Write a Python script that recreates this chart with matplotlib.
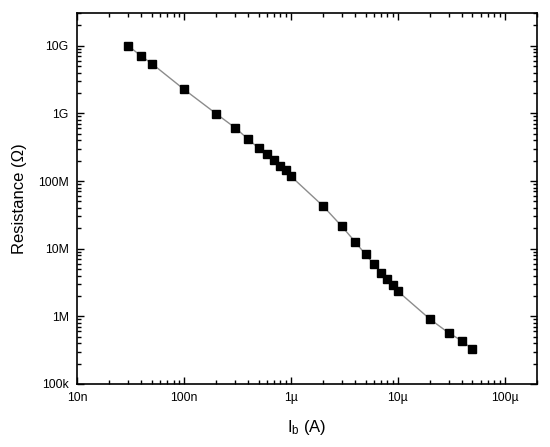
import matplotlib
matplotlib.use('Agg')
import matplotlib.pyplot as plt
import numpy as np

plt.rcParams['font.family'] = ['Liberation Sans', 'DejaVu Sans']
plt.rcParams['mathtext.fontset'] = 'custom'
plt.rcParams['mathtext.rm'] = 'Liberation Sans'
plt.rcParams['mathtext.default'] = 'regular'

# bias current (A) and measured resistance (Ohm)
current = [30e-9, 40e-9, 50e-9, 100e-9, 200e-9, 300e-9, 400e-9, 500e-9,
           600e-9, 700e-9, 800e-9, 900e-9, 1e-6, 2e-6, 3e-6, 4e-6, 5e-6,
           6e-6, 7e-6, 8e-6, 9e-6, 10e-6, 20e-6, 30e-6, 40e-6, 50e-6]
resistance = [1.0e10, 7.0e9, 5.45e9, 2.27e9, 9.9e8, 6.15e8, 4.15e8, 3.06e8,
              2.5e8, 2.02e8, 1.67e8, 1.45e8, 1.18e8, 4.28e7, 2.14e7, 1.26e7,
              8.2e6, 5.9e6, 4.33e6, 3.54e6, 2.89e6, 2.36e6, 9.1e5, 5.68e5,
              4.33e5, 3.24e5]

xticks = [1e-8, 1e-7, 1e-6, 1e-5, 1e-4]
xticklabels = ['10n', '100n', '1\u00b5', '10\u00b5', '100\u00b5']
yticks = [1e5, 1e6, 1e7, 1e8, 1e9, 1e10]
yticklabels = ['100k', '1M', '10M', '100M', '1G', '10G']

fig = plt.figure(figsize=(5.5, 4.47), dpi=100)
ax = fig.add_axes([0.14, 0.141, 0.836, 0.829])

ax.plot(current, resistance, '-', color='#8c8c8c', lw=1.0, zorder=1)
ax.plot(current, resistance, 's', color='black', ms=5.5, zorder=2)

ax.set_xscale('log')
ax.set_yscale('log')
ax.set_xlim(1e-8, 2e-4)
ax.set_ylim(1e5, 3e10)

ax.set_xticks(xticks)
ax.set_xticklabels(xticklabels)
ax.set_yticks(yticks)
ax.set_yticklabels(yticklabels)
ax.xaxis.set_minor_locator(matplotlib.ticker.LogLocator(base=10, subs=np.arange(2, 10)))
ax.yaxis.set_minor_locator(matplotlib.ticker.LogLocator(base=10, subs=np.arange(2, 10)))
ax.xaxis.set_minor_formatter(matplotlib.ticker.NullFormatter())
ax.yaxis.set_minor_formatter(matplotlib.ticker.NullFormatter())

ax.tick_params(which='both', direction='in', top=True, right=True,
               labelsize=8.8, width=1, colors='black')
ax.tick_params(which='major', length=5, pad=6)
ax.tick_params(which='minor', length=3)
for s in ax.spines.values():
    s.set_linewidth(1.2)

ax.set_xlabel('I$_b$ (A)', fontsize=12, va='center')
ax.set_ylabel('Resistance (\u03a9)', fontsize=12, va='center')
ax.xaxis.set_label_coords(0.5, -0.118)
ax.yaxis.set_label_coords(-0.124, 0.5)

fig.savefig('out.png', dpi=100)
